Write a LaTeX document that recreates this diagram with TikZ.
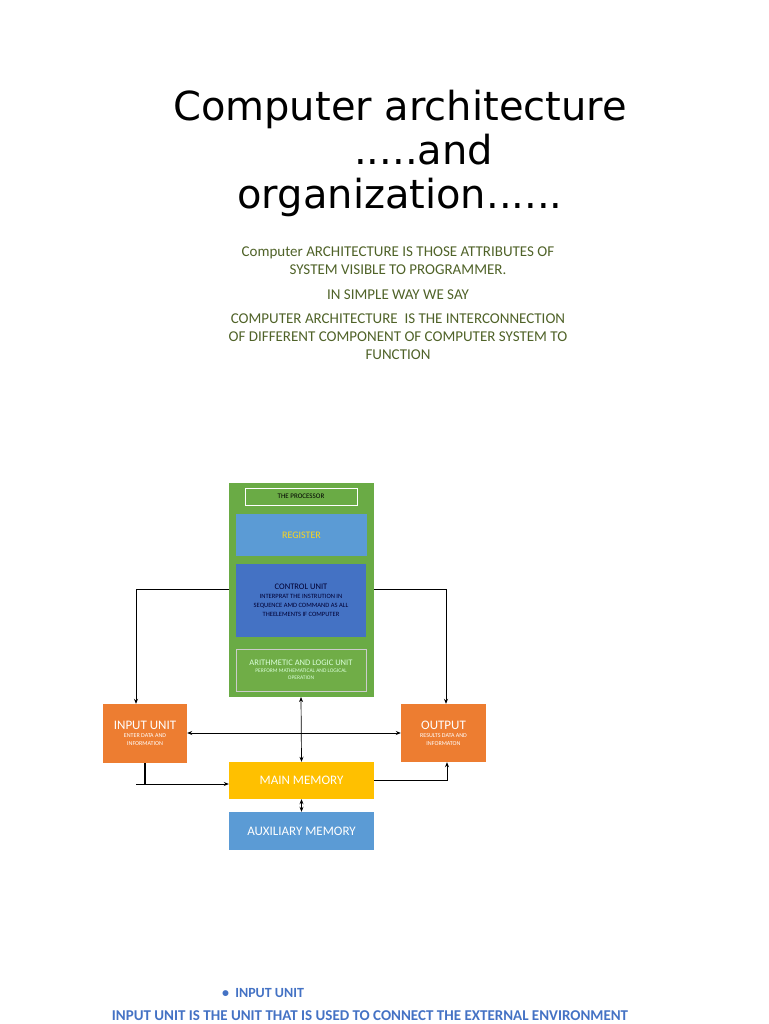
\documentclass[tikz,border=0pt]{standalone}
\usepackage{fontspec}
\setmainfont{Carlito}
\newfontfamily\titlefont{DejaVu Sans}
\usetikzlibrary{arrows.meta}
\definecolor{tgreen}{HTML}{4F6228}
\definecolor{pgreen}{HTML}{6AAB45}
\definecolor{lblue}{HTML}{5B9BD5}
\definecolor{dblue}{HTML}{4472C4}
\definecolor{agreen}{HTML}{70AD47}
\definecolor{orng}{HTML}{ED7D31}
\definecolor{yell}{HTML}{FFC000}
\begin{document}
\begin{tikzpicture}[x=1pt,y=-1pt,
 box/.style={draw=none,inner sep=0pt,align=center,drop shadow/.style={}},
 con/.style={line width=0.7pt,-{Stealth[length=5pt,width=4pt]}},
 dcon/.style={line width=0.7pt,{Stealth[length=5pt,width=4pt]}-{Stealth[length=5pt,width=4pt]}},
 ln/.style={line width=0.7pt}]
\useasboundingbox (0,0) rectangle (768,1024);
\node[font=\titlefont\fontsize{40}{44}\selectfont,align=center] (title) at (400,153) {Computer architecture\\\phantom{xx}.....and\\organization......};
\node[font=\fontsize{15}{18}\selectfont,text=tgreen,align=center] (d1) at (398,261) {Computer ARCHITECTURE IS THOSE ATTRIBUTES OF\\SYSTEM VISIBLE TO PROGRAMMER.};
\node[font=\fontsize{15}{18}\selectfont,text=tgreen] (d2) at (398,295) {IN SIMPLE WAY WE SAY};
\node[font=\fontsize{15}{18}\selectfont,text=tgreen,align=center] (d3) at (398,337) {COMPUTER ARCHITECTURE \ IS THE INTERCONNECTION\\OF DIFFERENT COMPONENT OF COMPUTER SYSTEM TO\\FUNCTION};
% processor
\fill[pgreen] (229,483) rectangle (374,697);
\node[coordinate] (proc) at (301,697) {};
\node[draw=white,line width=0.8pt,minimum width=112pt,minimum height=17pt,inner sep=0pt,font=\fontsize{7}{8}\selectfont] (tp) at (301,496.5) {THE PROCESSOR};
\node[fill=lblue,minimum width=131pt,minimum height=42pt,inner sep=0pt,text=yellow!70!orange!90!white,font=\fontsize{10}{12}\selectfont] (reg) at (301.5,535) {REGISTER};
\node[fill=dblue,minimum width=130pt,minimum height=73pt,inner sep=0pt,align=center,text=black!80!blue,font=\fontsize{6.5}{9}\selectfont] (cu) at (301,600.5) {{\fontsize{8.5}{10}\selectfont CONTROL UNIT}\\INTERPRAT THE INSTRUTION IN\\SEQUENCE AMD COMMAND AS ALL\\THEELEMENTS IF COMPUTER};
\node[fill=agreen,draw=black!20,minimum width=130pt,minimum height=42pt,inner sep=0pt,align=center,text=white!85!green,font=\fontsize{5.5}{7}\selectfont] (alu) at (301,670) {{\fontsize{8.5}{10}\selectfont ARITHMETIC AND LOGIC UNIT}\\PERFORM MATHEMATICAL AND LOGICAL\\OPERATION};
% units
\node[fill=orng,minimum width=84pt,minimum height=59pt,inner sep=0pt,align=center,text=white,font=\fontsize{6}{8}\selectfont] (in) at (145,733.5) {{\fontsize{13}{15}\selectfont INPUT UNIT}\\ENTER DATA AND\\INFORMATION};
\node[fill=orng,minimum width=85pt,minimum height=58pt,inner sep=0pt,align=center,text=white,font=\fontsize{6}{8}\selectfont] (out) at (443.5,733) {{\fontsize{13}{15}\selectfont OUTPUT}\\RESULTS DATA AND\\INFORMATON};
\node[fill=yell,minimum width=145pt,minimum height=37pt,inner sep=0pt,text=white,font=\fontsize{13}{15}\selectfont] (mm) at (301.5,780.5) {MAIN MEMORY};
\node[fill=lblue,minimum width=145pt,minimum height=38pt,inner sep=0pt,text=white,font=\fontsize{13}{15}\selectfont] (aux) at (301.5,831) {AUXILIARY MEMORY};
% connectors
\draw[con] (229,589) -| (in.north -| 136,0);
\draw[con] (374,589) -| (out.north -| 446,0);
\draw[dcon] (proc) -- (mm.north);
\draw[dcon] (in.east |- 0,733) -- (out.west |- 0,733);
\draw[line width=1.5pt] (in.south) -- (145,784);
\coordinate (ls) at (136,784);
\draw[con] (ls) -- (mm.west |- ls);
\draw[con] (mm.east |- 0,780) -| (out.south -| 447,0);
\draw[dcon] (mm.south) -- (aux.north);
% bottom text
\node[font=\bfseries\fontsize{14}{16}\selectfont,text=dblue] (b1) at (263,993) {\textbullet\ \ INPUT UNIT};
\node[font=\bfseries\fontsize{15}{17}\selectfont,text=dblue] (b2) at (370,1016) {INPUT UNIT IS THE UNIT THAT IS USED TO CONNECT THE EXTERNAL ENVIRONMENT};
\end{tikzpicture}
\end{document}
